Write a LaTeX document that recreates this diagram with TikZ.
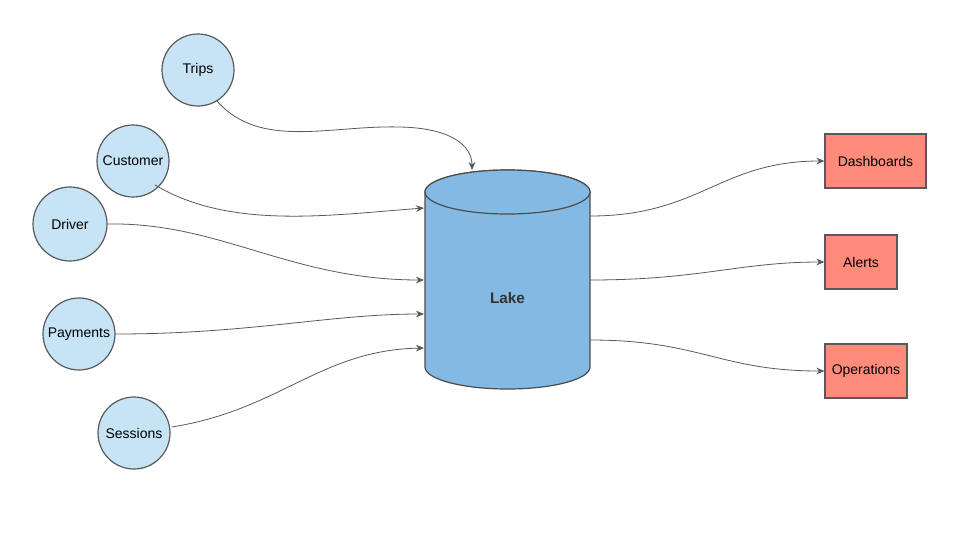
\documentclass[tikz,border=0pt]{standalone}
\usepackage{fontspec}
\setmainfont{Liberation Sans}
\usetikzlibrary{arrows.meta}
\begin{document}
\begin{tikzpicture}[x=0.75pt,y=-0.75pt,
  src/.style={circle,draw=black!65,line width=0.9pt,fill=srcfill,minimum size=72*0.75pt,inner sep=0pt,font=\fontsize{10.5}{12}\selectfont},
  dst/.style={rectangle,draw=black!65,line width=0.9pt,fill=dstfill,minimum height=54*0.75pt,inner sep=0pt,font=\fontsize{10.5}{12}\selectfont},
  edge/.style={draw=black!65,line width=0.6pt,-{Stealth[length=6pt,width=5pt]}}]
\definecolor{srcfill}{HTML}{C7E4F6}
\definecolor{dstfill}{HTML}{FF8B7B}
\definecolor{lakefill}{HTML}{84B9E3}
\useasboundingbox (0,0) rectangle (960,540);
% cylinder
\draw[draw=black!70,line width=0.9pt,fill=lakefill] (425,192) -- (425,367) arc[start angle=180,end angle=0,x radius=82.5,y radius=22] -- (590,192) arc[start angle=0,end angle=-180,x radius=82.5,y radius=22] -- cycle;
\draw[draw=black!70,line width=0.9pt,fill=lakefill] (507.5,192) ellipse[x radius=82.5,y radius=22];
\node[font=\bfseries\fontsize{11.5}{13}\selectfont,text=black!80] (lake) at (507.5,298) {Lake};
\coordinate (l1) at (472,170);
\coordinate (l2) at (424,208);
\coordinate (l3) at (424,280);
\coordinate (l4) at (424,314);
\coordinate (l5) at (424,348);
\coordinate (r1) at (590,216);
\coordinate (r2) at (590,280);
\coordinate (r3) at (590,340);
\node[src] (trips) at (198,70) {Trips};
\node[src] (cust) at (133,161) {Customer};
\node[src,minimum size=74*0.75pt] (drv) at (70,224) {Driver};
\node[src] (pay) at (79,334) {Payments};
\node[src] (ses) at (134,433) {Sessions};
\node[dst,minimum width=101*0.75pt] (dash) at (875.5,161) {Dashboards};
\node[dst,minimum width=72*0.75pt] (alert) at (861,262) {Alerts};
\node[dst,minimum width=82*0.75pt] (ops) at (866,371) {Operations};
\draw[edge] (trips.south east) ++(-7,5) .. controls (260,150) and (330,125) .. (400,127) .. controls (450,128) and (472,145) .. (l1);
\draw[edge] (cust.south east) ++(-4,-2) .. controls (230,230) and (330,215) .. (l2);
\draw[edge] (drv.east) .. controls (220,222) and (290,280) .. (l3);
\draw[edge] (pay.east) .. controls (250,334) and (330,314) .. (l4);
\draw[edge] (ses.east) ++(1,-6) .. controls (280,410) and (320,350) .. (l5);
\draw[edge] (r1) .. controls (700,216) and (720,161) .. (dash.west);
\draw[edge] (r2) .. controls (700,280) and (740,262) .. (alert.west);
\draw[edge] (r3) .. controls (700,340) and (720,371) .. (ops.west);
\end{tikzpicture}
\end{document}
